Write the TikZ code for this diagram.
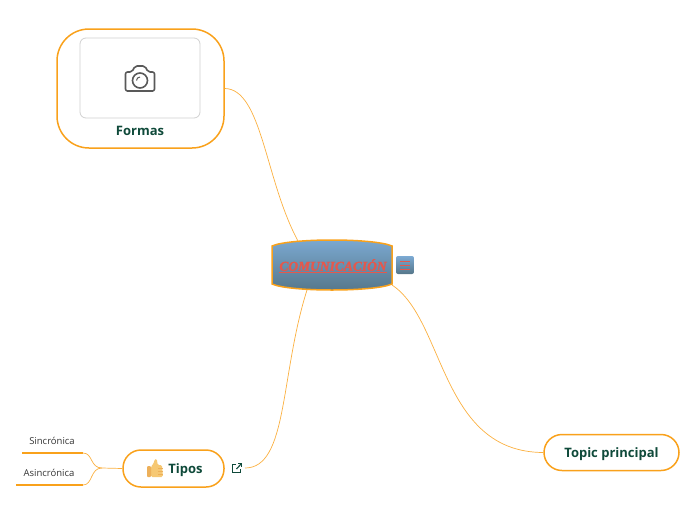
\documentclass[tikz,border=0pt]{standalone}
\usepackage{fontspec}
\setmainfont{Open Sans}
\newfontfamily\judulfont[BoldItalicFeatures={FakeBold=1.5}]{Liberation Serif}
\usetikzlibrary{calc,positioning}
\definecolor{oranye}{HTML}{F9A11B}
\definecolor{garis}{HTML}{FBB040}
\definecolor{hijau}{HTML}{0F4A3A}
\definecolor{merah}{HTML}{E5584C}
\definecolor{biruatas}{HTML}{7CAAD3}
\definecolor{birubawah}{HTML}{557689}
\definecolor{jempol}{HTML}{F6C873}
\definecolor{jempolgelap}{HTML}{EDB05A}
\tikzset{
	topik/.style={draw=oranye,line width=1.5pt,fill=white,text=hijau,font=\bfseries\fontsize{13}{15}\selectfont,inner sep=0pt,text depth=0pt},
	label topik/.style={text=hijau,font=\bfseries\fontsize{13}{15}\selectfont,inner sep=0pt,text depth=0pt},
	cabang/.style={draw=garis,line width=.7pt},
	sub/.style={text=black!80,font=\fontsize{9.5}{11}\selectfont,inner sep=0pt},
	subgaris/.style={draw=oranye,line width=2pt},
}
% ikon kamera, (#1) = titik tengah
\newcommand{\ikonkamera}[1]
	{
	\begin{scope}[shift={(#1)},draw=black!65,line width=1.6pt,line join=round]
	\draw[rounded corners=2pt] (-14.5,-7) -- (-8,-7) -- (-5,-13) -- (5,-13) -- (8,-7) -- (14.5,-7) -- (14.5,12) -- (-14.5,12) -- cycle;
	\draw (0,1.5) circle (7.5);
	\draw[line width=1pt] (-3.5,1.5) arc (180:270:3.5);
	\end{scope}
	}
% ikon tautan keluar
\newcommand{\ikontautan}[1]
	{
	\begin{scope}[shift={(#1)},draw=hijau,line width=1.1pt]
	\draw (-1,-3.5) -- (-4.5,-3.5) -- (-4.5,4.5) -- (3.5,4.5) -- (3.5,1);
	\draw (-.5,1) -- (4.5,-4.5);
	\draw (1,-4.5) -- (4.5,-4.5) -- (4.5,-1);
	\end{scope}
	}
% ikon jempol
\newcommand{\ikonjempol}[1]
	{
	\begin{scope}[shift={(#1)}]
	\fill[jempol,rounded corners=1.5pt] (-4,-1.5) -- (-1,-5) -- (-.5,-9) -- (2,-9) -- (2.5,-3) -- (7,-3) -- (8,9) -- (-4,9) -- cycle;
	\fill[jempolgelap,rounded corners=1pt] (-8,-2) rectangle (-4,9);
	\draw[jempolgelap,line width=.5pt] (3,0) -- (7.5,0) (3,3) -- (7.5,3) (3,6) -- (7.5,6);
	\end{scope}
	}

\begin{document}
\begin{tikzpicture}[x=1pt,y=-1pt]
\useasboundingbox (0,0) rectangle (696,520);

% titik sambungan
\coordinate (pusatA) at (298,241);
\coordinate (pusatB) at (307,290);
\coordinate (pusatC) at (392,285);
\coordinate (tautan) at (245,468);

% topik
\node[topik,rounded corners=32pt,minimum width=167pt,minimum height=119pt] (formas) at (140.5,88.5) {};
\node[draw=black!18,line width=.8pt,rounded corners=6pt,minimum width=120pt,minimum height=80pt] (gambar) at (140,78) {};
\node[label topik] (formasteks) at (140,130.5) {Formas};
\node[topik,rounded corners=18pt,minimum width=101pt,minimum height=37pt] (tipos) at (173.5,468.5) {};
\node[label topik] (tiposteks) at (185.5,468.5) {Tipos};
\node[topik,rounded corners=18pt,minimum width=135pt,minimum height=36pt] (topic) at (611.5,452.5) {Topic principal};

% sub topik
\node[sub] (sin) at (52,441) {Sincrónica};
\node[sub] (asin) at (49,473) {Asincrónica};
\coordinate (sinA) at (22,453);
\coordinate (sinB) at (83,453);
\coordinate (asinA) at (16,485);
\coordinate (asinB) at (83,485);
\coordinate (temu) at (102,468);
\draw[subgaris] (sinA) -- (sinB);
\draw[subgaris] (asinA) -- (asinB);

% cabang
\draw[cabang] (formas.east) .. controls (262,89) and (265,180) .. (pusatA);
\draw[cabang] (tautan) .. controls (288,468) and (280,375) .. (pusatB);
\draw[cabang] (pusatC) .. controls (445,320) and (440,452) .. (topic.west);
\draw[cabang] (sinB) .. controls (93,453) and (90,468) .. (temu) -- (tipos.west);
\draw[cabang] (asinB) .. controls (93,485) and (90,468) .. (temu);

% bentuk pusat
\draw[draw=oranye,line width=1.5pt,top color=biruatas,bottom color=birubawah]
	(272,246) .. controls (290,238) and (374,238) .. (392,246) -- (392,284) .. controls (374,292) and (290,292) .. (272,284) -- cycle;
\node[text=merah,inner sep=0pt,font=\judulfont\bfseries\itshape\fontsize{13.5}{16}\selectfont] (pusat) at (333,265) {COMUNICACIÓN};
\draw[merah,line width=.8pt] ([yshift=-1.5pt]pusat.base west) -- ([yshift=-1.5pt]pusat.base east);

% tombol catatan
\node[rounded corners=2pt,top color=biruatas,bottom color=birubawah,minimum size=18pt,inner sep=0pt] (catatan) at (405,265) {};
\draw[merah,line width=.6pt] ($(catatan)+(-5,-4)$) -- +(10,0) ($(catatan)+(-5,0)$) -- +(10,0) ($(catatan)+(-5,4)$) -- +(10,0);

% ikon
\ikonkamera{140,79}
\ikontautan{237,468}
\ikonjempol{155,468}

\end{tikzpicture}
\end{document}
